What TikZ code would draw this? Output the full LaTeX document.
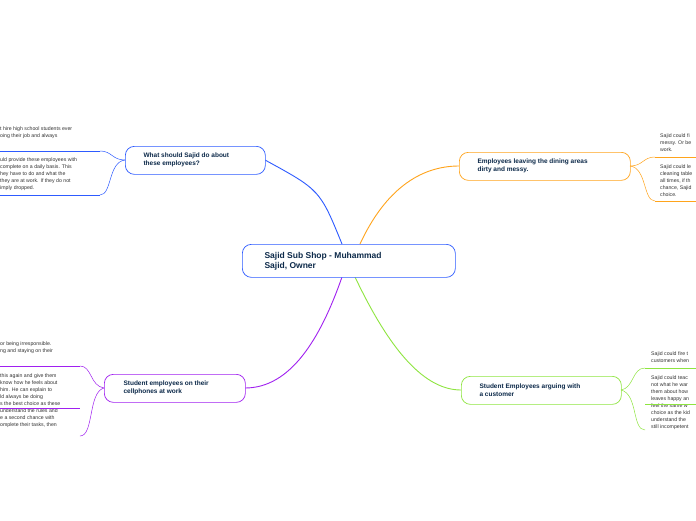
\documentclass[tikz,border=0pt]{standalone}
\usepackage{fontspec}
\setmainfont{Liberation Sans}
\definecolor{navy}{HTML}{0D2A4A}
\definecolor{cblue}{HTML}{2E5BFF}
\definecolor{corange}{HTML}{FFA41C}
\definecolor{cpurple}{HTML}{A020F0}
\definecolor{cgreen}{HTML}{8EE53F}
\definecolor{ltxt}{HTML}{333333}
\begin{document}
\begin{tikzpicture}[x=1pt,y=-1pt,
 topic/.style={draw=#1,rounded corners=9pt,line width=0.7pt,fill=white,font=\bfseries\fontsize{7}{8.5}\selectfont,text=navy,align=left,anchor=north west,inner sep=0pt},
 leaf/.style={font=\fontsize{5.2}{7}\selectfont,text=ltxt,align=left,anchor=north west,inner sep=0pt},
 con/.style={draw=#1,line width=0.9pt},
 sub/.style={draw=#1,line width=0.5pt}]
\clip (0,0) rectangle (696,520);
\fill[white] (0,0) rectangle (696,520);
% connectors
\coordinate (cbt) at (342,244); \coordinate (cot) at (360,244);
\coordinate (cpb) at (342,277); \coordinate (cgb) at (355,277);
\coordinate (bl) at (265,160); \coordinate (ol) at (459,166);
\coordinate (pl) at (245,388); \coordinate (gl) at (461,390);
\draw[con=cblue] (cbt) .. controls (320,190) .. (bl);
\draw[con=corange] (cot) .. controls (385,190) and (420,166) .. (ol);
\draw[con=cpurple] (cpb) .. controls (320,340) and (290,388) .. (pl);
\draw[con=cgreen] (cgb) .. controls (385,340) and (420,390) .. (gl);
% nodes
\node[topic=cblue,minimum width=213pt,minimum height=33pt] (c) at (242,244) {};
\node[font=\bfseries\fontsize{8.5}{10}\selectfont,text=navy,align=left,anchor=west] (ct) at (261,261) {Sajid Sub Shop - Muhammad\\Sajid, Owner};
\node[topic=cblue,minimum width=140pt,minimum height=28pt] (b) at (125,146) {};
\node[font=\bfseries\fontsize{6.5}{8}\selectfont,text=navy,align=left,anchor=west] at (140,160) {What should Sajid do about\\these employees?};
\node[topic=corange,minimum width=171pt,minimum height=28pt] (o) at (459,152) {};
\node[font=\bfseries\fontsize{6.5}{8}\selectfont,text=navy,align=left,anchor=west] at (474,166) {Employees leaving the dining areas\\dirty and messy.};
\node[topic=cpurple,minimum width=141pt,minimum height=28pt] (p) at (104,374) {};
\node[font=\bfseries\fontsize{6.5}{8}\selectfont,text=navy,align=left,anchor=west] at (120,388) {Student employees on their\\cellphones at work};
\node[topic=cgreen,minimum width=160pt,minimum height=28pt] (g) at (461,376) {};
\node[font=\bfseries\fontsize{6.5}{8}\selectfont,text=navy,align=left,anchor=west] at (476,390) {Student Employees arguing with\\a customer};
% blue leaves
\node[leaf] (b1) at (0,127) {t hire high school students ever\\oing their job and always};
\draw[sub=cblue,line width=0.9pt] (0,151) -- (100,151);
\node[leaf] (b2) at (0,158) {uld provide these employees with\\ complete on a daily basis. This\\hey have to do and what the\\ they are at work. If they do not\\imply dropped.};
\draw[sub=cblue,line width=0.9pt] (0,195) -- (100,195);
\draw[sub=cblue] (125,160) .. controls (112,160) and (112,151) .. (100,151);
\draw[sub=cblue] (125,160) .. controls (108,162) and (112,195) .. (100,195);
% orange leaves
\node[leaf] (o1) at (660,134) {Sajid could fi\\messy. Or be\\work.};
\draw[sub=corange,line width=0.9pt] (655,157) -- (696,157);
\node[leaf] (o2) at (660,165) {Sajid could le\\cleaning table\\all times, if th\\chance, Sajid\\choice.};
\draw[sub=corange,line width=0.9pt] (655,201) -- (696,201);
\draw[sub=corange] (630,166) .. controls (643,166) and (643,157) .. (655,157);
\draw[sub=corange] (630,166) .. controls (647,168) and (643,201) .. (655,201);
% purple leaves
\node[leaf] (p1) at (0,342) {or being irresponsible.\\ng and staying on their};
\node[leaf] (p2) at (0,374) {this again and give them\\know how he feels about\\ him. He can explain to\\ld always be doing\\s the best choice as these\\ understand the rules and\\e a second chance with\\omplete their tasks, then};
\draw[sub=cpurple,line width=0.9pt] (0,366) -- (80,366);
\draw[sub=cpurple,line width=0.9pt] (0,408) -- (80,408);
\draw[sub=cpurple] (104,388) .. controls (90,386) and (92,366) .. (80,366);
\draw[sub=cpurple] (104,388) .. controls (88,392) and (94,436) .. (80,436);
% green leaves
\node[leaf] (g1) at (651,352) {Sajid could fire t\\customers when};
\draw[sub=cgreen,line width=0.9pt] (645,368) -- (696,368);
\node[leaf] (g2) at (651,376) {Sajid could teac\\not what he war\\them about how\\leaves happy an\\feel the same w\\choice as the kid\\understand the \\still incompetent};
\draw[sub=cgreen,line width=0.9pt] (645,404) -- (696,404);
\draw[sub=cgreen] (621,390) .. controls (634,388) and (632,368) .. (645,368);
\draw[sub=cgreen] (621,390) .. controls (638,394) and (632,430) .. (645,430);
\end{tikzpicture}
\end{document}
